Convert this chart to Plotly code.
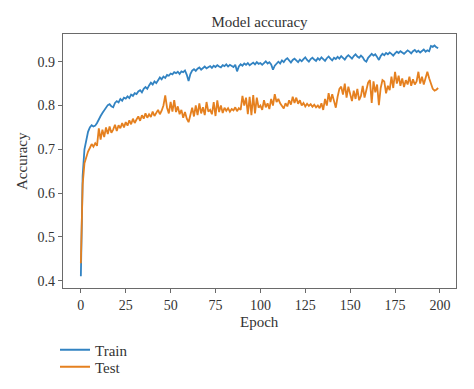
import plotly.graph_objects as go

epochs = list(range(200))

train_acc = [
    0.410, 0.640, 0.700, 0.725, 0.740, 0.750, 0.755, 0.752, 0.754, 0.760,
    0.770, 0.776, 0.783, 0.790, 0.797, 0.801, 0.803, 0.798, 0.796, 0.806,
    0.810, 0.807, 0.815, 0.811, 0.818, 0.816, 0.821, 0.817, 0.825, 0.822,
    0.828, 0.826, 0.832, 0.835, 0.830, 0.838, 0.842, 0.838, 0.846, 0.852,
    0.848, 0.855, 0.851, 0.858, 0.864, 0.860, 0.866, 0.863, 0.870, 0.868,
    0.873, 0.871, 0.876, 0.874, 0.877, 0.872, 0.878, 0.876, 0.880, 0.870,
    0.856, 0.872, 0.880, 0.883, 0.879, 0.884, 0.887, 0.882, 0.886, 0.889,
    0.885, 0.888, 0.890, 0.886, 0.891, 0.888, 0.892, 0.889, 0.887, 0.892,
    0.890, 0.894, 0.889, 0.893, 0.891, 0.888, 0.893, 0.878, 0.889, 0.894,
    0.891, 0.896, 0.893, 0.897, 0.892, 0.896, 0.898, 0.894, 0.899, 0.895,
    0.897, 0.893, 0.898, 0.901, 0.896, 0.899, 0.894, 0.882, 0.891, 0.897,
    0.900, 0.896, 0.903, 0.899, 0.905, 0.908, 0.902, 0.898, 0.904, 0.907,
    0.903, 0.899, 0.905, 0.901, 0.906, 0.910, 0.904, 0.900, 0.906, 0.909,
    0.905, 0.902, 0.908, 0.904, 0.910, 0.906, 0.902, 0.908, 0.912, 0.907,
    0.903, 0.909, 0.906, 0.911, 0.907, 0.913, 0.909, 0.905, 0.911, 0.915,
    0.911, 0.907, 0.913, 0.917, 0.912, 0.909, 0.914, 0.910, 0.903, 0.900,
    0.909, 0.914, 0.918, 0.914, 0.917, 0.911, 0.904, 0.913, 0.918, 0.915,
    0.920, 0.917, 0.921, 0.918, 0.914, 0.919, 0.923, 0.920, 0.924, 0.921,
    0.918, 0.922, 0.926, 0.923, 0.919, 0.924, 0.927, 0.922, 0.925, 0.921,
    0.924, 0.928, 0.923, 0.926, 0.924, 0.936, 0.934, 0.937, 0.933, 0.931,
]

test_acc = [
    0.440, 0.620, 0.668, 0.685, 0.695, 0.703, 0.712, 0.706, 0.714, 0.708,
    0.748, 0.722, 0.745, 0.728, 0.750, 0.735, 0.752, 0.738, 0.745, 0.756,
    0.742, 0.755, 0.748, 0.760, 0.750, 0.762, 0.754, 0.766, 0.757, 0.770,
    0.760, 0.768, 0.775, 0.765, 0.778, 0.770, 0.782, 0.772, 0.780, 0.774,
    0.786, 0.776, 0.784, 0.790, 0.780, 0.788, 0.800, 0.823, 0.795, 0.782,
    0.808, 0.786, 0.812, 0.785, 0.798, 0.780, 0.790, 0.772, 0.785, 0.770,
    0.762, 0.780, 0.795, 0.775, 0.800, 0.778, 0.805, 0.782, 0.796, 0.778,
    0.808, 0.786, 0.790, 0.780, 0.808, 0.776, 0.812, 0.785, 0.800, 0.783,
    0.795, 0.788, 0.794, 0.786, 0.792, 0.789, 0.796, 0.787, 0.794, 0.790,
    0.822, 0.800, 0.818, 0.780, 0.820, 0.778, 0.824, 0.782, 0.818, 0.795,
    0.800, 0.790, 0.812, 0.796, 0.805, 0.792, 0.815, 0.800, 0.826, 0.808,
    0.815, 0.805, 0.800, 0.793, 0.805, 0.798, 0.812, 0.802, 0.820, 0.806,
    0.818, 0.804, 0.812, 0.800, 0.806, 0.798, 0.804, 0.799, 0.803, 0.797,
    0.802, 0.796, 0.800, 0.794, 0.805, 0.790, 0.815, 0.800, 0.828, 0.808,
    0.826, 0.812, 0.795, 0.820, 0.838, 0.843, 0.825, 0.850, 0.818, 0.843,
    0.826, 0.810, 0.834, 0.815, 0.838, 0.812, 0.822, 0.845, 0.818, 0.836,
    0.852, 0.858, 0.806, 0.855, 0.830, 0.848, 0.801, 0.840, 0.858, 0.855,
    0.828, 0.845, 0.835, 0.866, 0.840, 0.877, 0.850, 0.868, 0.845, 0.862,
    0.842, 0.858, 0.848, 0.866, 0.845, 0.860, 0.848, 0.855, 0.877, 0.850,
    0.866, 0.848, 0.860, 0.877, 0.862, 0.850, 0.838, 0.834, 0.836, 0.840,
]

x_ticks = [0, 25, 50, 75, 100, 125, 150, 175, 200]
y_ticks = [0.4, 0.5, 0.6, 0.7, 0.8, 0.9]

FONT = "Liberation Serif, Times New Roman, serif"
TXT = "#333333"
AX = "#6a6a6a"

W, H = 474, 389
L, R, T, B = 63, 18, 34, 101
PW, PH = W - L - R, H - T - B


def px_x(x):
    return (x - L) / PW


def px_y(y):
    return (H - B - y) / PH


fig = go.Figure()
fig.add_trace(go.Scatter(x=epochs, y=train_acc, mode="lines", name="Train",
                         line=dict(color="#3283c2", width=1.8), legend="legend"))
fig.add_trace(go.Scatter(x=epochs, y=test_acc, mode="lines", name="Test",
                         line=dict(color="#e5801f", width=1.8), legend="legend2"))

leg_common = dict(xref="paper", xanchor="left", yref="paper", yanchor="middle",
                  font=dict(family=FONT, size=15, color=TXT),
                  bgcolor="rgba(0,0,0,0)", itemwidth=30, borderwidth=0)

fig.update_layout(
    width=W, height=H,
    margin=dict(l=L, r=R, t=T, b=B, autoexpand=False),
    paper_bgcolor="white", plot_bgcolor="white",
    font=dict(family=FONT, size=14, color=TXT),
    title=dict(text="Model accuracy", x=0.5, xref="paper", xanchor="center",
               y=1 - 22 / H, yref="container", yanchor="middle",
               font=dict(family=FONT, size=15, color=TXT)),
    showlegend=True,
    legend=dict(x=px_x(55), y=px_y(350), **leg_common),
    legend2=dict(x=px_x(55), y=px_y(367), **leg_common),
)
fig.update_xaxes(
    range=[-9.95, 208.95], tickvals=x_ticks, ticktext=[str(v) for v in x_ticks],
    showgrid=False, zeroline=False, showline=True, linecolor=AX, linewidth=1.3,
    mirror=True, ticks="outside", ticklen=4, tickcolor=AX, tickwidth=1,
    ticklabelstandoff=0,
    tickfont=dict(family=FONT, size=14, color=TXT),
)
fig.update_yaxes(
    range=[0.3833, 0.9633], tickvals=y_ticks, ticktext=[f"{v:.1f}" for v in y_ticks],
    showgrid=False, zeroline=False, showline=True, linecolor=AX, linewidth=1.3,
    mirror=True, ticks="outside", ticklen=4, tickcolor=AX, tickwidth=1,
    tickfont=dict(family=FONT, size=14, color=TXT),
)
fig.add_annotation(text="Epoch", x=0.5, xref="paper", y=px_y(322), yref="paper",
                   showarrow=False, yanchor="middle", xanchor="center",
                   font=dict(family=FONT, size=15, color=TXT))
fig.add_annotation(text="Accuracy", x=px_x(22), xref="paper", y=0.5, yref="paper",
                   showarrow=False, textangle=-90, xanchor="center", yanchor="middle",
                   font=dict(family=FONT, size=15, color=TXT))

fig.write_html("out.html")
